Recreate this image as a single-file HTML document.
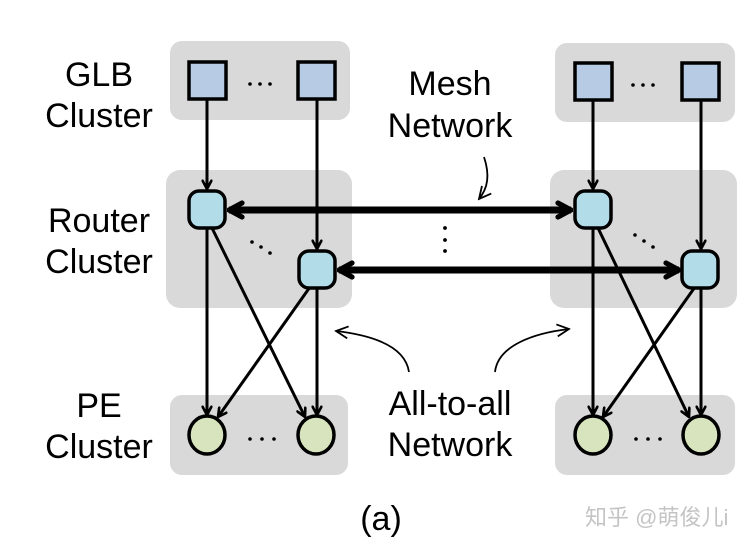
<!DOCTYPE html>
<html><head><meta charset="utf-8"><style>
html,body{margin:0;padding:0;background:#fff;}
svg{display:block;}
text{font-family:"Liberation Sans",Arial,sans-serif;fill:#000;}
</style></head><body>
<svg width="750" height="548" viewBox="0 0 750 548" xmlns="http://www.w3.org/2000/svg">
<defs>
<marker id="a" viewBox="0 0 10 10" refX="9" refY="5" markerWidth="11" markerHeight="11" markerUnits="userSpaceOnUse" orient="auto"><path d="M1.5,1 L9,5 L1.5,9" fill="none" stroke="#000" stroke-width="2.4" stroke-linecap="round"/></marker>
<marker id="b" viewBox="0 0 10 10" refX="9" refY="5" markerWidth="20" markerHeight="20" markerUnits="userSpaceOnUse" orient="auto-start-reverse"><path d="M2.5,1.5 L9,5 L2.5,8.5" fill="none" stroke="#000" stroke-width="2.6" stroke-linecap="round" stroke-linejoin="round"/></marker>
<marker id="c" viewBox="0 0 10 10" refX="9" refY="5" markerWidth="15" markerHeight="15" markerUnits="userSpaceOnUse" orient="auto"><path d="M1,1 L9,5 L1,9" fill="none" stroke="#000" stroke-width="1.2"/></marker>
</defs>
<g fill="#d9d9d9">
<rect x="170" y="41" width="180" height="79" rx="12"/>
<rect x="555" y="43" width="180" height="79" rx="12"/>
<rect x="166" y="170" width="186" height="138" rx="14"/>
<rect x="550" y="170" width="187" height="138" rx="14"/>
<rect x="170" y="395" width="178" height="80" rx="12"/>
<rect x="555" y="395" width="180" height="80" rx="12"/>
</g>
<g stroke="#000" stroke-width="3" fill="none" marker-end="url(#a)">
<line x1="207" y1="100" x2="207" y2="189"/>
<line x1="317" y1="100" x2="317" y2="249"/>
<line x1="593" y1="101" x2="593" y2="189"/>
<line x1="701" y1="101" x2="701" y2="249"/>
<line x1="207" y1="229" x2="207" y2="415"/>
<line x1="212" y1="228" x2="305" y2="417"/>
<line x1="317" y1="288" x2="317" y2="415"/>
<line x1="310" y1="287" x2="218" y2="417"/>
<line x1="593" y1="229" x2="593" y2="415"/>
<line x1="598" y1="228" x2="689" y2="417"/>
<line x1="701" y1="288" x2="701" y2="415"/>
<line x1="695" y1="287" x2="603" y2="417"/>
</g>
<g stroke="#000" stroke-width="7" marker-start="url(#b)" marker-end="url(#b)">
<line x1="229" y1="210" x2="571" y2="210"/>
<line x1="339" y1="270" x2="679" y2="270"/>
</g>
<g fill="#b7cbe4" stroke="#000" stroke-width="3.5">
<rect x="189" y="62" width="37" height="37"/>
<rect x="298" y="62" width="37" height="37"/>
<rect x="575" y="63" width="37" height="37"/>
<rect x="682" y="63" width="37" height="37"/>
</g>
<g fill="#b2dde8" stroke="#000" stroke-width="3.5">
<rect x="189" y="191" width="36" height="37" rx="10"/>
<rect x="299" y="251" width="36" height="37" rx="10"/>
<rect x="575" y="191" width="36" height="37" rx="10"/>
<rect x="682" y="251" width="36" height="37" rx="10"/>
</g>
<g fill="#d7e4bd" stroke="#000" stroke-width="3.5">
<ellipse cx="207" cy="435" rx="18" ry="19"/>
<ellipse cx="316" cy="435" rx="18" ry="19"/>
<ellipse cx="593" cy="435" rx="18" ry="19"/>
<ellipse cx="701" cy="435" rx="18" ry="19"/>
</g>
<g fill="#000">
<circle cx="250" cy="84" r="1.8"/><circle cx="260" cy="84" r="1.8"/><circle cx="270" cy="84" r="1.8"/>
<circle cx="633" cy="85" r="1.8"/><circle cx="643" cy="85" r="1.8"/><circle cx="653" cy="85" r="1.8"/>
<circle cx="252" cy="242" r="1.8"/><circle cx="261" cy="247" r="1.8"/><circle cx="270" cy="253" r="1.8"/>
<circle cx="635" cy="235" r="1.8"/><circle cx="644" cy="241" r="1.8"/><circle cx="653" cy="247" r="1.8"/>
<circle cx="445" cy="228" r="1.9"/><circle cx="445" cy="240" r="1.9"/><circle cx="445" cy="251" r="1.9"/>
<circle cx="250" cy="439" r="1.8"/><circle cx="262" cy="439" r="1.8"/><circle cx="274" cy="439" r="1.8"/>
<circle cx="636" cy="439" r="1.8"/><circle cx="648" cy="439" r="1.8"/><circle cx="660" cy="439" r="1.8"/>
</g>
<g stroke="#000" stroke-width="1.8" fill="none" marker-end="url(#c)">
<path d="M484,157 C490,175 488,188 479,199"/>
<path d="M409,372 C405,345 370,335 336,331"/>
<path d="M495,372 C498,345 535,333 569,329"/>
</g>
<g font-size="34" text-anchor="middle">
<text x="99" y="86">GLB</text><text x="99" y="127">Cluster</text>
<text x="99" y="232">Router</text><text x="99" y="273">Cluster</text>
<text x="99" y="417">PE</text><text x="99" y="458">Cluster</text>
<text x="450" y="95">Mesh</text><text x="450" y="137">Network</text>
<text x="450" y="415">All-to-all</text><text x="450" y="456">Network</text>
<text x="381" y="530">(a)</text>
</g>
<text x="585" y="525" font-size="22" style="fill:#c4c4c4;font-family:'Liberation Sans','Noto Sans CJK SC',sans-serif">知乎 @萌俊儿i</text>
</svg>
</body></html>
